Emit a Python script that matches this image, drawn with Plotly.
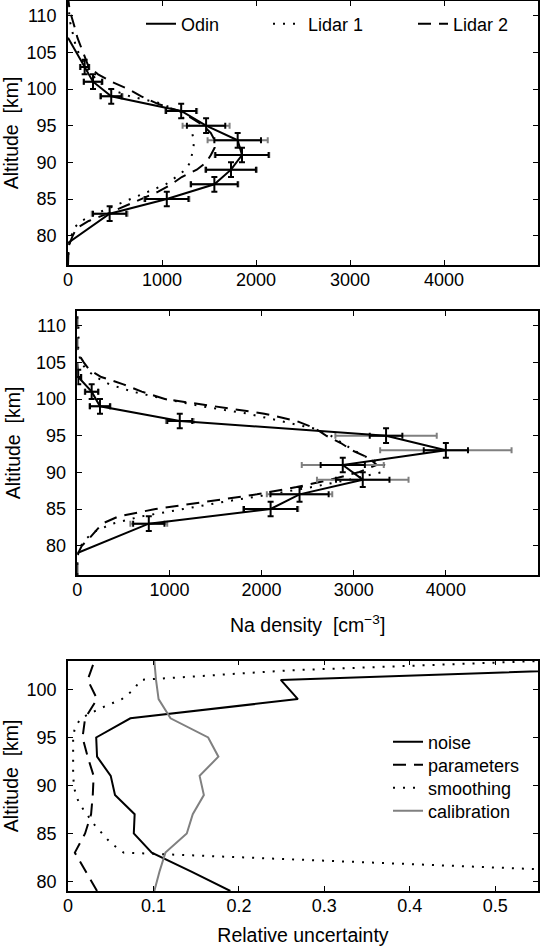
import plotly.graph_objects as go

FONT = "Liberation Sans, Arial, Helvetica, sans-serif"
GRAY = "#808080"

# ---------------- data ----------------
# Lidar profiles (1 km sampling)
alt_lidar = list(range(76, 113))
p1_lidar1 = [0, 0, 5, 15, 35, 60, 140, 300, 480, 670, 860, 1040, 1150, 1250, 1300, 1320,
             1335, 1340, 1320, 1290, 1230, 1160, 1000, 660, 440, 320, 250, 190, 150, 110,
             80, 60, 40, 25, 15, 5, 0]
p1_lidar2 = [0, 0, 5, 20, 50, 90, 220, 420, 600, 780, 960, 1100, 1210, 1370, 1470, 1520,
             1560, 1560, 1520, 1440, 1320, 1180, 950, 780, 640, 460, 320, 220, 190, 160,
             130, 100, 80, 55, 35, 15, 5]
p2_lidar1 = [0, 0, 0, 10, 40, 100, 200, 380, 700, 1150, 1600, 2100, 2550, 2950, 3300, 3330,
             3150, 3000, 2870, 2750, 2560, 2200, 1850, 1350, 950, 600, 350, 200, 100, 40,
             20, 10, 10, 20, 10, 0, 0]
p2_lidar2 = [0, 0, 0, 10, 50, 130, 200, 270, 450, 850, 1400, 1950, 2380, 2750, 3050, 3250,
             3160, 2980, 2860, 2700, 2580, 2380, 2030, 1500, 950, 700, 500, 260, 130, 70,
             20, 0, 0, 0, 0, 0, 0]

# Odin profiles
p1_odin_alt = [79, 81, 83, 85, 87, 89, 91, 93, 95, 97, 99, 101, 103, 105, 107]
p1_odin = [0, 220, 443, 1051, 1557, 1734, 1851, 1805, 1469, 1204, 460, 266, 177, 90, 0]
p2_odin_alt = [79, 81, 83, 85, 87, 89, 91, 93, 95, 97, 99, 101, 103, 105]
p2_odin = [0, 390, 776, 2098, 2412, 3098, 2881, 4000, 3351, 1112, 246, 156, 10, 0]

# Odin error bars (noise only = black, total = gray)
err_alt = [83, 85, 87, 89, 91, 93, 95, 97, 99, 101, 103]
p1_err_val = [443, 1051, 1557, 1734, 1851, 1805, 1469, 1204, 460, 266, 177]
p1_err_noise = [177, 230, 248, 265, 283, 248, 204, 160, 110, 97, 45]
p1_err_total = [190, 240, 255, 275, 290, 320, 250, 170, 120, 100, 50]
p2_err_val = [776, 2098, 2412, 3098, 2881, 4000, 3351, 1112, 246, 156, 10]
p2_err_noise = [170, 289, 316, 290, 240, 240, 177, 135, 108, 70, 30]
p2_err_total = [200, 300, 355, 497, 445, 713, 550, 150, 115, 75, 35]
alt_resolution = 1.0

# Relative uncertainty
alt3 = [79, 81, 83, 85, 87, 89, 91, 93, 95, 97, 99, 101, 103]
noise = [0.19, 0.145, 0.098, 0.077, 0.078, 0.055, 0.050, 0.034, 0.033, 0.073, 0.269, 0.249, 0.92]
parameters = [0.034, 0.021, 0.008, 0.020, 0.027, 0.029, 0.030, 0.023, 0.017, 0.020, 0.034, 0.023, 0.031]
calibration = [0.101, 0.107, 0.114, 0.139, 0.146, 0.159, 0.154, 0.176, 0.164, 0.120, 0.106, 0.103, 0.101]
alt_smooth = list(range(79, 104))
smoothing = [1.2, 0.9, 0.625, 0.345, 0.065, 0.05, 0.04, 0.03, 0.022, 0.014, 0.009, 0.007, 0.006,
             0.006, 0.006, 0.006, 0.006, 0.008, 0.015, 0.037, 0.063, 0.077, 0.085, 0.26, 0.56]

# ---------------- figure ----------------
DOT = "2px,8px"
DASH = "13px,8px"
LW = 2

W, H = 540, 946
ML, MR, MT, MB = 68, 2, 1, 55
PW, PH = W - ML - MR, H - MT - MB


def xd(px0, px1):
    return [(px0 - ML) / PW, (px1 - ML) / PW]


def yd(top, bottom):
    return [(H - MB - bottom) / PH, (H - MB - top) / PH]


fig = go.Figure()


def add_profile_panel(xa, ya, lid1, lid2, o_alt, o_val, e_val, e_noise, e_total, show):
    fig.add_trace(go.Scatter(x=lid1, y=alt_lidar, mode="lines", name="Lidar 1",
                             line=dict(color="black", width=LW, dash=DOT),
                             xaxis=xa, yaxis=ya, showlegend=show, legend="legend2"))
    fig.add_trace(go.Scatter(x=lid2, y=alt_lidar, mode="lines", name="Lidar 2",
                             line=dict(color="black", width=LW, dash=DASH),
                             xaxis=xa, yaxis=ya, showlegend=show, legend="legend3"))
    fig.add_trace(go.Scatter(x=e_val, y=err_alt, mode="markers",
                             marker=dict(size=1, color="rgba(0,0,0,0)"),
                             error_x=dict(type="data", array=e_total, color=GRAY,
                                          thickness=2, width=3),
                             xaxis=xa, yaxis=ya, showlegend=False, hoverinfo="skip"))
    fig.add_trace(go.Scatter(x=e_val, y=err_alt, mode="markers",
                             marker=dict(size=1, color="rgba(0,0,0,0)"),
                             error_x=dict(type="data", array=e_noise, color="black",
                                          thickness=2, width=3),
                             error_y=dict(type="constant", value=alt_resolution, color="black",
                                          thickness=2, width=3),
                             xaxis=xa, yaxis=ya, showlegend=False, hoverinfo="skip"))
    fig.add_trace(go.Scatter(x=o_val, y=o_alt, mode="lines", name="Odin",
                             line=dict(color="black", width=LW),
                             xaxis=xa, yaxis=ya, showlegend=show, legend="legend"))


add_profile_panel("x", "y", p1_lidar1, p1_lidar2, p1_odin_alt, p1_odin,
                  p1_err_val, p1_err_noise, p1_err_total, True)
add_profile_panel("x2", "y2", p2_lidar1, p2_lidar2, p2_odin_alt, p2_odin,
                  p2_err_val, p2_err_noise, p2_err_total, False)

fig.add_trace(go.Scatter(x=noise, y=alt3, mode="lines", name="noise",
                         line=dict(color="black", width=LW), xaxis="x3", yaxis="y3",
                         legend="legend4"))
fig.add_trace(go.Scatter(x=parameters, y=alt3, mode="lines", name="parameters",
                         line=dict(color="black", width=LW, dash=DASH), xaxis="x3", yaxis="y3",
                         legend="legend5"))
fig.add_trace(go.Scatter(x=smoothing, y=alt_smooth, mode="lines", name="smoothing",
                         line=dict(color="black", width=LW, dash=DOT), xaxis="x3", yaxis="y3",
                         legend="legend6"))
fig.add_trace(go.Scatter(x=calibration, y=alt3, mode="lines", name="calibration",
                         line=dict(color=GRAY, width=LW), xaxis="x3", yaxis="y3",
                         legend="legend7"))

axis_common = dict(showline=True, linecolor="black", linewidth=1.5, mirror="ticks",
                   ticks="inside", ticklen=5, tickwidth=1, tickcolor="black",
                   showgrid=False, zeroline=False,
                   tickfont=dict(family=FONT, size=18, color="black"))
title_font = dict(family=FONT, size=19.5, color="black")
legend_font = dict(family=FONT, size=18, color="black")


def legend_at(text_left_px, center_px):
    # legend box starts ~39 px left of its label text
    return dict(orientation="h", x=(text_left_px - 39 - ML) / PW, y=(H - MB - center_px) / PH,
                xanchor="left", yanchor="middle", bgcolor="rgba(0,0,0,0)",
                borderwidth=0, font=legend_font)


fig.update_layout(
    width=W, height=H, autosize=False,
    margin=dict(l=ML, r=MR, t=MT, b=MB, autoexpand=False),
    paper_bgcolor="white", plot_bgcolor="white",
    font=dict(family=FONT, size=18, color="black"),
    xaxis=dict(domain=xd(68, 538), range=[0, 5000], tickvals=[0, 1000, 2000, 3000, 4000],
               anchor="y", ticklabelstandoff=-2, **axis_common),
    yaxis=dict(domain=yd(1, 265), range=[76, 112], tickvals=[80, 85, 90, 95, 100, 105, 110],
               anchor="x", ticklabelstandoff=6,
               title=dict(text="Altitude\u00a0 [km]", font=title_font, standoff=10),
               **axis_common),
    xaxis2=dict(domain=xd(77.3, 538), range=[0, 5000], tickvals=[0, 1000, 2000, 3000, 4000],
                anchor="y2", ticklabelstandoff=-2,
                title=dict(text="Na density\u00a0 [cm<sup>\u22123</sup>]", font=title_font,
                           standoff=19),
                **axis_common),
    yaxis2=dict(domain=yd(311, 575), range=[76, 112], tickvals=[80, 85, 90, 95, 100, 105, 110],
                anchor="x2", ticklabelstandoff=6,
                title=dict(text="Altitude\u00a0 [km]", font=title_font, standoff=10),
                **axis_common),
    xaxis3=dict(domain=xd(68, 538), range=[0, 0.55], tickvals=[0, 0.1, 0.2, 0.3, 0.4, 0.5],
                ticktext=["0", "0.1", "0.2", "0.3", "0.4", "0.5"],
                anchor="y3", ticklabelstandoff=-2,
                title=dict(text="Relative uncertainty", font=title_font, standoff=13),
                **axis_common),
    yaxis3=dict(domain=yd(660.7, 891), range=[79, 103], tickvals=[80, 85, 90, 95, 100],
                anchor="x3", ticklabelstandoff=6,
                title=dict(text="Altitude\u00a0 [km]", font=title_font, standoff=10),
                **axis_common),
    legend=legend_at(180, 24),
    legend2=legend_at(307, 24),
    legend3=legend_at(452, 24),
    legend4=legend_at(427, 742),
    legend5=legend_at(427, 765),
    legend6=legend_at(427, 788),
    legend7=legend_at(427, 811),
    showlegend=True,
)

# make the page exactly the figure size (no default body margin / scrollbars)
page_fix = (
    "document.documentElement.style.margin='0';"
    "document.documentElement.style.overflow='hidden';"
    "document.body.style.margin='0';"
    "document.body.style.padding='0';"
    "document.body.style.overflow='hidden';"
    "var gd=document.getElementById('{plot_id}');"
    "Plotly.relayout(gd,{width:540,height:946});"
)

fig.write_html("out.html", config={"responsive": False, "displayModeBar": False},
               post_script=page_fix)
